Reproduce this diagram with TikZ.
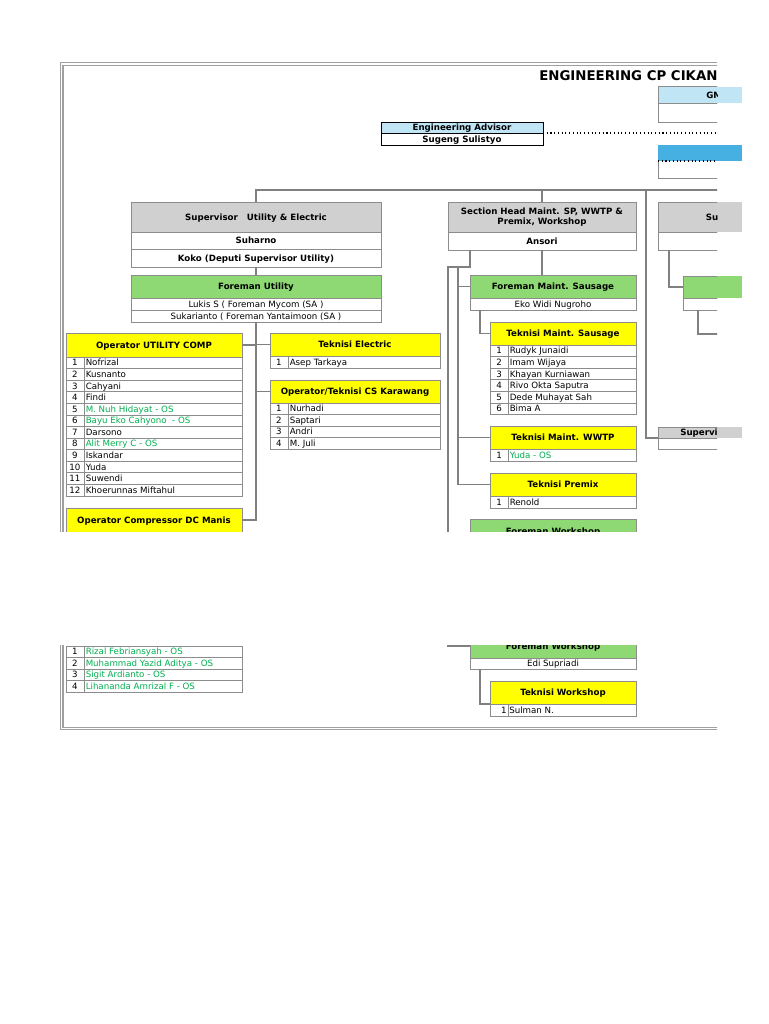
\documentclass[tikz,border=0pt]{standalone}
\usepackage{fontspec}
\setmainfont{DejaVu Sans}
\definecolor{hgray}{HTML}{D0D0D0}
\definecolor{hgreen}{HTML}{8ED973}
\definecolor{hyellow}{HTML}{FFFF00}
\definecolor{hlblue}{HTML}{C0E6F5}
\definecolor{hblue}{HTML}{45B0E1}
\definecolor{bgray}{HTML}{8C8C8C}
\definecolor{cgray}{HTML}{808080}
\definecolor{osgreen}{HTML}{00B050}
\definecolor{fgray}{HTML}{A0A0A0}
\newcommand\bodyf{\fontsize{6.5}{7.8}\selectfont}
\newcommand\boldf{\fontsize{6.5}{7.8}\selectfont\bfseries}
\newcommand\titlef{\fontsize{10}{12}\selectfont\bfseries}
\tikzset{
 bx/.style={draw=bgray, line width=0.75pt, inner sep=0pt, outer sep=0pt, anchor=north west,
   align=center, font=\boldf, text height=5.2pt, text depth=0.5pt},
 conn/.style={draw=cgray, line width=1.1pt},
 gridl/.style={draw=bgray, line width=0.6pt},
 nm/.style={anchor=west, inner sep=0pt, font=\bodyf, text height=5.2pt, text depth=0.5pt},
 nb/.style={anchor=center, inner sep=0pt, font=\bodyf, text height=5.2pt, text depth=0.5pt},
 framel/.style={draw=fgray, line width=1pt},
}
% name, x1, y1, x2, y2, fill, text
\newcommand\bxn[8][]{\node[bx,fill=#7,#1,minimum width={(#5-#3)*0.75pt},minimum height={(#6-#4)*0.75pt}] (#2) at (#3,#4) {#8};}
% prefix, x1, xn, x2, ytop, rowh, items
\newcommand\plist[7]{%
 \foreach \nm/\cl [count=\i] in {#7} {
  \pgfmathsetmacro\ya{#5+(\i-1)*#6}
  \pgfmathsetmacro\yb{#5+\i*#6}
  \pgfmathsetmacro\ym{#5+(\i-0.5)*#6}
  \draw[gridl, fill=white] (#2,\ya) rectangle (#4,\yb);
  \draw[gridl] (#3,\ya) -- (#3,\yb);
  \node[nb] (#1n\i) at ({(#2+#3)/2},\ym) {\i};
  \node[nm, text=\cl] (#1r\i) at (#3+1.5,\ym) {\nm};
 }}
\begin{document}
\begin{tikzpicture}[x=0.75pt,y=-0.75pt]
\useasboundingbox (0,0) rectangle (768,1024);
% fills running past the clipped edge
\fill[hlblue] (658,87) rectangle (742,103);
\fill[hblue] (658,145) rectangle (742,161);
\fill[hgray] (658,202) rectangle (742,232);
\fill[hgreen] (683,276) rectangle (742,298);
\fill[hgray] (658,427) rectangle (742,438);
\begin{scope}
\clip (0,0) rectangle (717,1024);
% frame
\draw[framel] (742,62.5) -- (60.5,62.5) -- (60.5,729.5) -- (742,729.5);
\draw[framel] (742,65.5) -- (63,65.5) -- (63,727.5) -- (742,727.5);
% title
\node[anchor=base west, font=\titlef, inner sep=0pt] (title) at (539,80.5) {ENGINEERING CP CIKANDE};
% GM
\bxn{gm}{658}{87}{742}{103}{none}{}
\node[nm, font=\boldf] (gmt) at (706,95) {GM};
\bxn{gmrow}{658}{103}{742}{122}{white}{}
% blue box row
\draw[bgray, line width=0.75pt] (658,161) -- (658,178) -- (742,178);
\draw[black, dotted, line width=0.8pt] (658,161) -- (742,161);
% engineering advisor
\bxn[draw=black]{ea}{381}{122}{543}{133}{hlblue}{Engineering Advisor}
\bxn[draw=black]{eaname}{381}{133}{543}{145}{white}{Sugeng Sulistyo}
\coordinate (eaend) at (742,133);
\draw[black, dotted, line width=0.8pt] (ea.south east) -- (eaend);
% supervisor utility
\bxn{sup}{131}{202}{381}{232}{hgray}{Supervisor\ \ \ Utility \& Electric}
\bxn{suharno}{131}{232}{381}{249}{white}{Suharno}
\bxn{koko}{131}{249}{381}{267}{white}{Koko (Deputi Supervisor Utility)}
\bxn{fu}{131}{275}{381}{298}{hgreen}{Foreman Utility}
\bxn[font=\bodyf]{lukis}{131}{298}{381}{310}{white}{Lukis S ( Foreman Mycom (SA )}
\bxn[font=\bodyf]{sukar}{131}{310}{381}{322}{white}{Sukarianto ( Foreman Yantaimoon (SA )}
% operators
\bxn{ouc}{66}{333}{242}{357}{hyellow}{Operator UTILITY COMP}
\plist{ouc}{66}{84}{242}{357}{11.58}{Nofrizal/black,Kusnanto/black,Cahyani/black,Findi/black,M. Nuh Hidayat - OS/osgreen,Bayu Eko Cahyono\ \ - OS/osgreen,Darsono/black,Alit Merry C - OS/osgreen,Iskandar/black,Yuda/black,Suwendi/black,Khoerunnas Miftahul/black}
\bxn{te}{270}{333}{440}{356}{hyellow}{Teknisi Electric}
\plist{te}{270}{288}{440}{356}{12}{Asep Tarkaya/black}
\bxn{cs}{270}{380}{440}{403}{hyellow}{Operator/Teknisi CS Karawang}
\plist{cs}{270}{288}{440}{403}{11.5}{Nurhadi/black,Saptari/black,Andri/black,M. Juli/black}
\bxn{opc}{66}{508}{242}{532}{hyellow}{Operator Compressor DC Manis}
\plist{opcl}{66}{84}{242}{646}{11.5}{Rizal Febriansyah - OS/osgreen,Muhammad Yazid Aditya - OS/osgreen,Sigit Ardianto - OS/osgreen,Lihananda Amrizal F - OS/osgreen}
% section head
\bxn{sh}{448}{202}{636}{232}{hgray}{}
\node[align=center, font=\boldf, inner sep=0pt] (sht) at (sh.center) {Section Head Maint. SP, WWTP \&\\Premix, Workshop};
\bxn{ansori}{448}{232}{636}{250}{white}{Ansori}
\bxn{fms}{470}{275}{636}{298}{hgreen}{Foreman Maint. Sausage}
\bxn[font=\bodyf]{eko}{470}{298}{636}{310}{white}{Eko Widi Nugroho}
\bxn{tms}{490}{322}{636}{345}{hyellow}{Teknisi Maint. Sausage}
\plist{tms}{490}{508}{636}{345}{11.6}{Rudyk Junaidi/black,Imam Wijaya/black,Khayan Kurniawan/black,Rivo Okta Saputra/black,Dede Muhayat Sah/black,Bima A/black}
\bxn{tw}{490}{426}{636}{449}{hyellow}{Teknisi Maint. WWTP}
\plist{tw}{490}{508}{636}{449}{12}{Yuda - OS/osgreen}
\bxn{tp}{490}{473}{636}{496}{hyellow}{Teknisi Premix}
\plist{tp}{490}{508}{636}{496}{12}{Renold/black}
\bxn{fwa}{470}{519}{636}{543}{hgreen}{Foreman Workshop}
\bxn{fw}{470}{634}{636}{658}{hgreen}{Foreman Workshop}
\bxn[font=\bodyf]{edi}{470}{658}{636}{669}{white}{Edi Supriadi}
\bxn{tws}{490}{681}{636}{704}{hyellow}{Teknisi Workshop}
\draw[gridl, fill=white] (490,704) rectangle (636,716);
\draw[gridl] (508,704) -- (508,716);
\node[nb, anchor=east] (twsn1) at (507,710) {1};
\node[nm] (twsr1) at (509,710) {Sulman N.};
% right column (cut off)
\bxn{su}{658}{202}{742}{232}{none}{}
\node[nm, font=\boldf] (sut) at (705.5,217) {Supervisor};
\bxn{surow}{658}{232}{742}{250}{white}{}
\bxn{gr}{683}{276}{742}{298}{none}{}
\bxn{grrow}{683}{298}{742}{310}{white}{}
\bxn{sv}{658}{427}{742}{438}{none}{}
\node[nm, font=\boldf] (svt) at (680,432.5) {Supervisor};
\bxn{svrow}{658}{438}{742}{449}{white}{}
% connectors
\coordinate (bus1) at (257,190);
\coordinate (busr) at (742,190);
\coordinate (bus646) at (646,190);
\draw[conn] (sup.north) -- (sup.north |- bus1) -- (busr);
\draw[conn] (sh.north |- bus1) -- (sh.north);
\draw[conn] (bus646) |- (sv.south west);
\draw[conn] (koko.south) -- (fu.north);
\draw[conn] (sukar.south) |- (opc.east);
\draw[conn] (sukar.south) |- (ouc.east);
\draw[conn] (sukar.south) |- (te.west);
\draw[conn] (sukar.south) |- (cs.west);
\coordinate (d1) at (470,267);
\coordinate (j1) at (448,267);
\coordinate (j2) at (458,267);
\draw[conn] (ansori.south -| d1) -- (d1) -- (j1) |- (fw.west);
\draw[conn] (j2) |- (tp.west);
\draw[conn] (j2) |- (tw.west);
\draw[conn] (j2) |- (fms.west);
\draw[conn] (ansori.south) -- (ansori.south |- fms.north);
\coordinate (c480) at (480,0);
\draw[conn] (eko.south -| c480) |- (tms.west);
\draw[conn] (edi.south -| c480) |- (tws.south west);
\coordinate (c669) at (669,0);
\draw[conn] (surow.south -| c669) |- (gr.west);
\coordinate (c698) at (698,0);
\coordinate (rend) at (742,334);
\draw[conn] (grrow.south -| c698) |- (rend);
\end{scope}
% page-break gap
\fill[white] (0,531.5) rectangle (768,645);
\end{tikzpicture}
\end{document}
